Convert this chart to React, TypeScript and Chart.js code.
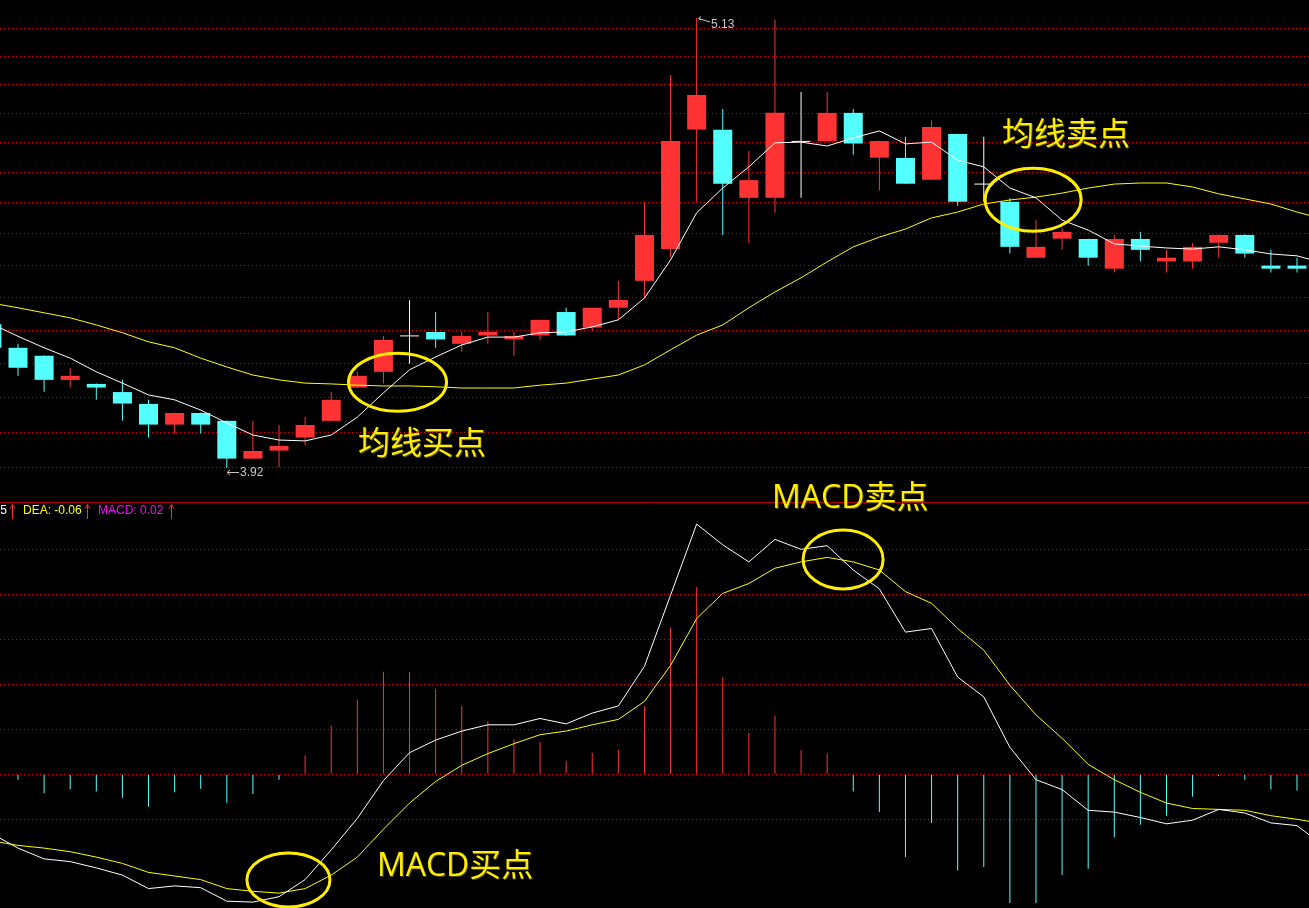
import React, { useEffect, useRef } from 'react';
import { Chart, registerables } from 'chart.js';

Chart.register(...registerables);

// ---------------- data (trading-day index k; k = 0 is the half-hidden candle at the left edge) ----------------
const OPEN = [4.272, 4.212, 4.192, 4.132, 4.122, 4.102, 4.073, 4.023, 4.051, 4.032, 3.942, 3.961, 3.992, 4.032, 4.113, 4.152,
  4.242, 4.252, 4.222, 4.243, 4.233, 4.243, 4.303, 4.263, 4.314, 4.384, 4.468, 4.799, 4.798, 4.607, 4.607, 4.765, 4.766,
  4.847, 4.719, 4.718, 4.657, 4.786, 4.645, 4.596, 4.445, 4.496, 4.495, 4.416, 4.495, 4.435, 4.435, 4.485, 4.506, 4.424, 4.424];
const HIGH = [4.283, 4.222, 4.193, 4.162, 4.123, 4.132, 4.083, 4.052, 4.052, 4.033, 4.032, 4.022, 4.042, 4.103, 4.152, 4.242,
  4.334, 4.303, 4.252, 4.303, 4.252, 4.283, 4.314, 4.314, 4.384, 4.596, 4.958, 5.130, 4.858, 4.738, 5.125, 4.908, 4.908,
  4.858, 4.767, 4.778, 4.826, 4.787, 4.778, 4.606, 4.546, 4.525, 4.496, 4.506, 4.514, 4.466, 4.484, 4.507, 4.507, 4.466, 4.445];
const LOW = [4.202, 4.142, 4.103, 4.113, 4.083, 4.032, 3.992, 4.001, 4.001, 3.920, 3.942, 3.922, 3.973, 4.031, 4.112, 4.123,
  4.172, 4.212, 4.202, 4.222, 4.192, 4.232, 4.242, 4.253, 4.283, 4.338, 4.446, 4.596, 4.506, 4.484, 4.566, 4.607, 4.765,
  4.727, 4.627, 4.646, 4.657, 4.585, 4.596, 4.456, 4.445, 4.466, 4.424, 4.406, 4.435, 4.406, 4.416, 4.445, 4.445, 4.406, 4.406];
const CLOSE = [4.212, 4.162, 4.132, 4.142, 4.113, 4.074, 4.023, 4.051, 4.023, 3.942, 3.960, 3.972, 4.022, 4.083, 4.142, 4.232,
  4.242, 4.233, 4.242, 4.252, 4.242, 4.283, 4.243, 4.314, 4.334, 4.506, 4.766, 4.899, 4.646, 4.656, 4.847, 4.765, 4.847,
  4.759, 4.766, 4.646, 4.806, 4.596, 4.645, 4.474, 4.474, 4.514, 4.445, 4.495, 4.466, 4.445, 4.474, 4.506, 4.456, 4.416, 4.416];

const MA5 = [4.272, 4.241, 4.212, 4.186, 4.152, 4.124, 4.095, 4.083, 4.058, 4.027, 3.998, 3.986, 3.984, 3.998, 4.041, 4.100,
  4.157, 4.189, 4.219, 4.239, 4.239, 4.250, 4.252, 4.265, 4.283, 4.339, 4.439, 4.566, 4.634, 4.693, 4.761, 4.763, 4.752,
  4.775, 4.795, 4.758, 4.763, 4.712, 4.693, 4.634, 4.607, 4.546, 4.519, 4.482, 4.476, 4.471, 4.468, 4.474, 4.466, 4.455,
  4.450, 4.431];
const MA_LONG = [4.326, 4.314, 4.301, 4.288, 4.270, 4.250, 4.227, 4.212, 4.186, 4.164, 4.144, 4.132, 4.124, 4.122, 4.119,
  4.117, 4.117, 4.115, 4.112, 4.112, 4.112, 4.119, 4.124, 4.134, 4.144, 4.169, 4.207, 4.244, 4.270, 4.314, 4.355, 4.392,
  4.434, 4.474, 4.500, 4.522, 4.552, 4.568, 4.590, 4.601, 4.609, 4.620, 4.634, 4.645, 4.648, 4.648, 4.637, 4.618, 4.604,
  4.590, 4.568, 4.549];

const DIF = [-0.066, -0.082, -0.094, -0.097, -0.104, -0.112, -0.127, -0.124, -0.126, -0.141, -0.142, -0.136, -0.117, -0.084,
  -0.049, -0.007, 0.024, 0.038, 0.048, 0.055, 0.055, 0.062, 0.056, 0.068, 0.076, 0.120, 0.199, 0.278, 0.255, 0.236, 0.261,
  0.250, 0.254, 0.227, 0.206, 0.158, 0.162, 0.108, 0.086, 0.030, -0.006, -0.017, -0.040, -0.042, -0.048, -0.055, -0.051,
  -0.039, -0.043, -0.054, -0.057, -0.079];
const DEA = [-0.074, -0.079, -0.082, -0.086, -0.092, -0.099, -0.109, -0.113, -0.117, -0.127, -0.130, -0.132, -0.127, -0.112,
  -0.092, -0.061, -0.032, -0.008, 0.010, 0.023, 0.034, 0.044, 0.048, 0.055, 0.061, 0.081, 0.121, 0.173, 0.201, 0.212, 0.229,
  0.236, 0.241, 0.236, 0.227, 0.203, 0.190, 0.162, 0.138, 0.099, 0.066, 0.040, 0.011, -0.006, -0.020, -0.032, -0.038,
  -0.039, -0.040, -0.046, -0.050, -0.055];
const MACD_BAR = [null, -0.006, -0.021, -0.017, -0.019, -0.026, -0.036, -0.020, -0.016, -0.032, -0.022, -0.006, 0.021, 0.054,
  0.083, 0.114, 0.114, 0.095, 0.076, 0.059, 0.039, 0.036, 0.015, 0.024, 0.027, 0.076, 0.163, 0.208, 0.108, 0.046, 0.065,
  0.027, 0.023, -0.019, -0.042, -0.092, -0.054, -0.107, -0.103, -0.143, -0.143, -0.112, -0.105, -0.070, -0.056, -0.046,
  -0.025, -0.002, -0.006, -0.017, -0.018];

const PRICE_GRID = [3.920, 4.004, 4.088, 4.172, 4.257, 4.341, 4.425, 4.509, 4.593, 4.677, 4.761, 4.846, 4.930, 5.014, 5.098];
const MACD_GRID = [-0.05, 0, 0.05, 0.1, 0.15, 0.2, 0.25];

const INDICATOR_TEXT = ['DIF: -0.05', 'DEA: -0.06', 'MACD: 0.02'];

// annotations: anchors in data coordinates (day index, price / macd value)
const ANNOTATIONS = [
  { text: '均线买点', panel: 'price', textAt: [14.03, 3.975], ellipseAt: [15.54, 4.126], rx: 49, ry: 29 },
  { text: '均线卖点', panel: 'price', textAt: [38.70, 4.780], ellipseAt: [39.89, 4.602], rx: 48, ry: 31.5 },
  { text: 'MACD卖点', panel: 'macd', textAt: [29.89, 0.306], ellipseAt: [32.61, 0.2387], rx: 40, ry: 29.5 },
  { text: 'MACD买点', panel: 'macd', textAt: [14.75, -0.103], ellipseAt: [11.36, -0.1174], rx: 41.5, ry: 27 },
];

// ---------------- view ----------------
const W = 1309;
const H = 908;
const TOP_H = 501;
const X_MIN = 0.3104;
const X_MAX = 50.4597;
const PRICE_MIN = 3.8434;
const PRICE_MAX = 5.1853;
const MACD_MIN = -0.14856;
const MACD_MAX = 0.30367;

const UP = '#ff3333';
const DOWN = '#54ffff';
const FLAT = '#ffffff';
const GRID = '#d00000';
const NOTE = '#ffee00';
const NOTE_FONT = '32px "Open Sans", "Noto Sans CJK SC", sans-serif';

const candleColor = (k: number) => (CLOSE[k] > OPEN[k] ? UP : CLOSE[k] < OPEN[k] ? DOWN : FLAT);

const hiddenX = { type: 'linear', min: X_MIN, max: X_MAX, display: false, bounds: 'data', offset: false };

function gridAxis(extra: any, values: number[]) {
  return {
    ...extra,
    bounds: 'data',
    position: 'left',
    display: true,
    ticks: { display: false },
    grid: { color: GRID, lineWidth: 1, drawTicks: false, tickLength: 0 },
    border: { display: false, dash: [1, 3] },
    afterBuildTicks: (scale: any) => {
      scale.ticks = values.map((v) => ({ value: v }));
    },
  };
}

const baseOptions = {
  responsive: false,
  maintainAspectRatio: false,
  animation: false,
  events: [],
  layout: { padding: 0, autoPadding: false },
  plugins: { legend: { display: false }, tooltip: { enabled: false } },
};

export default function App() {
  const topRef = useRef<HTMLCanvasElement>(null);
  const botRef = useRef<HTMLCanvasElement>(null);
  const overRef = useRef<HTMLCanvasElement>(null);

  useEffect(() => {
    document.body.style.margin = '0';
    document.body.style.background = '#000';
    const idx = OPEN.map((_, k) => k);
    const wickData = idx.map((k) => ({ x: k, y: [LOW[k], HIGH[k]] }));
    const bodyData = idx
      .filter((k) => OPEN[k] !== CLOSE[k])
      .map((k) => ({ x: k, y: [Math.min(OPEN[k], CLOSE[k]), Math.max(OPEN[k], CLOSE[k])] }));
    const dojiData = idx.filter((k) => OPEN[k] === CLOSE[k]).map((k) => ({ x: k, y: OPEN[k] }));

    const top = new Chart(topRef.current as HTMLCanvasElement, {
      type: 'bar',
      data: {
        datasets: [
          {
            type: 'line', data: MA5.map((v, k) => ({ x: k, y: v })), borderColor: '#ffffff', borderWidth: 1,
            pointRadius: 0, tension: 0, order: 0,
          },
          {
            type: 'line', data: MA_LONG.map((v, k) => ({ x: k, y: v })), borderColor: '#ffff00', borderWidth: 1,
            pointRadius: 0, tension: 0, order: 1,
          },
          {
            type: 'scatter', data: dojiData, pointStyle: 'line', pointRadius: 9.5, borderColor: FLAT,
            backgroundColor: FLAT, borderWidth: 1, order: 2,
          },
          {
            type: 'bar', data: bodyData, grouped: false, barThickness: 19, inflateAmount: 0,
            backgroundColor: (c: any) => candleColor(c.raw ? c.raw.x : 0), order: 3,
          },
          {
            type: 'bar', data: wickData, grouped: false, barThickness: 1, inflateAmount: 0,
            backgroundColor: (c: any) => candleColor(c.raw ? c.raw.x : 0), order: 4,
          },
        ],
      } as any,
      options: {
        ...baseOptions,
        scales: {
          x: hiddenX,
          y: gridAxis({ type: 'logarithmic', min: PRICE_MIN, max: PRICE_MAX }, PRICE_GRID),
        },
      } as any,
    });

    const barData = idx
      .filter((k) => MACD_BAR[k] !== null && MACD_BAR[k] !== undefined)
      .map((k) => ({ x: k, y: MACD_BAR[k] as number }));

    const panelDecor = {
      id: 'panelDecor',
      afterDraw(chart: any) {
        const ctx = chart.ctx;
        ctx.save();
        ctx.strokeStyle = '#b40000';
        ctx.lineWidth = 1;
        ctx.beginPath();
        ctx.moveTo(0, 1.5);
        ctx.lineTo(W, 1.5);
        ctx.stroke();
        ctx.font = '12px "Liberation Sans", Arial, sans-serif';
        ctx.textBaseline = 'middle';
        const arrow = (x: number) => {
          ctx.strokeStyle = '#ff2a2a';
          ctx.lineWidth = 1;
          ctx.beginPath();
          ctx.moveTo(x + 0.5, 4);
          ctx.lineTo(x + 0.5, 18);
          ctx.moveTo(x - 2, 7.5);
          ctx.lineTo(x + 0.5, 3.5);
          ctx.lineTo(x + 3, 7.5);
          ctx.stroke();
        };
        ctx.fillStyle = '#ffffff';
        ctx.textAlign = 'right';
        ctx.fillText(INDICATOR_TEXT[0], 7, 10);
        arrow(12);
        ctx.textAlign = 'left';
        ctx.fillStyle = '#ffff00';
        ctx.fillText(INDICATOR_TEXT[1], 23, 10);
        arrow(87);
        ctx.fillStyle = '#ff00ff';
        ctx.fillText(INDICATOR_TEXT[2], 98, 10);
        arrow(171);
        ctx.restore();
      },
    };

    const bot = new Chart(botRef.current as HTMLCanvasElement, {
      type: 'bar',
      data: {
        datasets: [
          {
            type: 'line', data: DIF.map((v, k) => ({ x: k, y: v })), borderColor: '#ffffff', borderWidth: 1,
            pointRadius: 0, tension: 0, order: 0,
          },
          {
            type: 'line', data: DEA.map((v, k) => ({ x: k, y: v })), borderColor: '#ffff00', borderWidth: 1,
            pointRadius: 0, tension: 0, order: 1,
          },
          {
            type: 'bar', data: barData, grouped: false, barThickness: 1, inflateAmount: 0,
            backgroundColor: (c: any) => (c.raw && c.raw.y >= 0 ? UP : DOWN), order: 2,
          },
        ],
      } as any,
      options: {
        ...baseOptions,
        scales: {
          x: hiddenX,
          y: gridAxis({ type: 'linear', min: MACD_MIN, max: MACD_MAX }, MACD_GRID),
        },
      } as any,
      plugins: [panelDecor],
    });

    // overlay: extreme-price labels and hand-drawn style annotations
    const oc = overRef.current as HTMLCanvasElement;
    const ctx = oc.getContext('2d') as CanvasRenderingContext2D;
    ctx.clearRect(0, 0, W, H);
    const px = (k: number) => top.scales.x.getPixelForValue(k);
    const py = (p: number) => top.scales.y.getPixelForValue(p);
    const my = (v: number) => bot.scales.y.getPixelForValue(v) + TOP_H;

    ctx.font = '12px "Liberation Sans", Arial, sans-serif';
    ctx.textBaseline = 'middle';
    ctx.textAlign = 'left';
    ctx.strokeStyle = '#c8c8c8';
    ctx.fillStyle = '#c8c8c8';
    ctx.lineWidth = 1;
    const hiVal = Math.max(...HIGH);
    const hiK = HIGH.indexOf(hiVal);
    const hx = Math.round(px(hiK)) + 1;
    const hy = Math.round(py(hiVal));
    ctx.beginPath();
    ctx.moveTo(hx + 0.5, hy + 0.5);
    ctx.lineTo(hx + 12, hy + 4);
    ctx.moveTo(hx + 0.5, hy + 0.5);
    ctx.lineTo(hx + 3, hy - 1.5);
    ctx.moveTo(hx + 0.5, hy + 0.5);
    ctx.lineTo(hx + 3.5, hy + 2);
    ctx.stroke();
    ctx.fillText(hiVal.toFixed(2), hx + 13, hy + 6.5);

    const loVal = Math.min(...LOW);
    const loK = LOW.indexOf(loVal);
    const lx = Math.round(px(loK));
    const ly = Math.round(py(loVal)) + 4;
    ctx.beginPath();
    ctx.moveTo(lx, ly + 0.5);
    ctx.lineTo(lx + 12, ly + 0.5);
    ctx.moveTo(lx, ly + 0.5);
    ctx.lineTo(lx + 3, ly - 2);
    ctx.moveTo(lx, ly + 0.5);
    ctx.lineTo(lx + 3, ly + 3);
    ctx.stroke();
    ctx.fillText(loVal.toFixed(2), lx + 13, ly + 0.5);

    ctx.font = NOTE_FONT;
    for (const a of ANNOTATIONS) {
      const yf = a.panel === 'price' ? py : my;
      const ex = px(a.ellipseAt[0]);
      const ey = yf(a.ellipseAt[1]);
      ctx.save();
      ctx.strokeStyle = NOTE;
      ctx.lineWidth = 3;
      ctx.beginPath();
      ctx.ellipse(ex, ey, a.rx, a.ry, 0, 0, Math.PI * 2);
      ctx.stroke();
      ctx.shadowColor = 'rgba(90,80,0,0.9)';
      ctx.shadowOffsetX = 1;
      ctx.shadowOffsetY = 1;
      ctx.shadowBlur = 0;
      ctx.fillStyle = NOTE;
      ctx.textBaseline = 'middle';
      ctx.textAlign = 'left';
      ctx.fillText(a.text, px(a.textAt[0]), yf(a.textAt[1]));
      ctx.restore();
    }

    return () => {
      top.destroy();
      bot.destroy();
    };
  }, []);

  return (
    <div style={{ position: 'fixed', left: 0, top: 0, width: W, height: H, background: '#000', overflow: 'hidden' }}>
      <canvas ref={topRef} width={W} height={TOP_H}
        style={{ position: 'absolute', left: 0, top: 0, width: W, height: TOP_H, display: 'block' }} />
      <canvas ref={botRef} width={W} height={H - TOP_H}
        style={{ position: 'absolute', left: 0, top: TOP_H, width: W, height: H - TOP_H, display: 'block' }} />
      <canvas ref={overRef} width={W} height={H}
        style={{ position: 'absolute', left: 0, top: 0, width: W, height: H, display: 'block', pointerEvents: 'none' }} />
    </div>
  );
}
